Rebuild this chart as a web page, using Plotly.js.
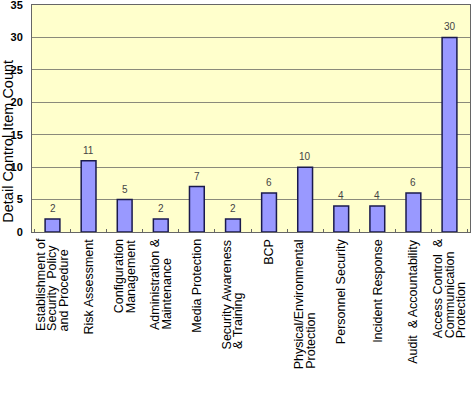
<!DOCTYPE html>
<html>
<head>
<meta charset="utf-8">
<script src="https://cdn.plot.ly/plotly-3.0.1.min.js"></script>
<style>html,body{margin:0;padding:0;background:#fff;}#chart{width:474px;height:399px;}</style>
</head>
<body>
<div id="chart"></div>
<script>
// ---- data ----
var labelLines = [
  ['Establishment of', 'Security\u00a0\u00a0Policy', 'and Procedure'],
  ['Risk Assessment'],
  ['Configuration', 'Management'],
  ['Administration &', 'Maintenance'],
  ['Media Protection'],
  ['Security Awareness', '& Training'],
  ['BCP'],
  ['Physical/Environmental', 'Protection'],
  ['Personnel Security'],
  ['Incident Response'],
  ['Audit\u00a0\u00a0& Accountability'],
  ['Access Control\u00a0\u00a0&', 'Communication', 'Protection']
];
var categories = labelLines.map(function (l) { return l.join(' '); });
var counts = [2, 11, 5, 2, 7, 2, 6, 10, 4, 4, 6, 30];
var yTicks = [0, 5, 10, 15, 20, 25, 30, 35];
var yTitle = 'Detail Control Item Count';

// ---- styling ----
var FONT = 'Liberation Sans, Arial, sans-serif';
var labelSize = 12.5;
var lineStep = 11.5;

var canvas = document.createElement('canvas');
var ctx = canvas.getContext('2d');
ctx.font = labelSize + 'px "Liberation Sans"';

var annotations = [];
// category labels, one annotation per line, start-aligned
labelLines.forEach(function (lines, i) {
  var maxLen = 0;
  lines.forEach(function (t) { maxLen = Math.max(maxLen, ctx.measureText(t).width); });
  var n = lines.length;
  lines.forEach(function (t, j) {
    annotations.push({
      x: categories[i], xref: 'x', y: 0, yref: 'paper',
      text: t, showarrow: false, textangle: -90,
      xanchor: 'center', yanchor: 'bottom',
      xshift: (j - (n - 1) / 2) * lineStep,
      yshift: -(9 + maxLen),
      font: {family: FONT, size: labelSize, color: '#000'}
    });
  });
});
// value labels
counts.forEach(function (v, i) {
  annotations.push({
    x: categories[i], xref: 'x', y: v, yref: 'y',
    text: String(v), showarrow: false,
    xanchor: 'center', yanchor: 'bottom', yshift: 3,
    font: {family: FONT, size: 10, color: '#444'}
  });
});
// y axis title
annotations.push({
  x: 0, xref: 'paper', y: 0.40, yref: 'paper',
  text: yTitle, showarrow: false, textangle: -90,
  xanchor: 'center', yanchor: 'middle', xshift: -23.5,
  borderpad: 0, borderwidth: 0,
  font: {family: FONT, size: 14.5, color: '#000'}
});

var trace = {
  type: 'bar',
  x: categories,
  y: counts,
  marker: {color: '#9999ff', line: {color: '#1a1a4d', width: 1.5}},
  hoverinfo: 'skip'
};

var layout = {
  width: 474, height: 399,
  margin: {l: 32, r: 4, t: 5, b: 167, pad: 0},
  paper_bgcolor: '#ffffff',
  plot_bgcolor: '#ffffcc',
  bargap: 0.59,
  showlegend: false,
  font: {family: FONT},
  xaxis: {
    type: 'category',
    showticklabels: false,
    ticks: 'inside', tickson: 'boundaries', ticklen: 3, tickcolor: '#666',
    showline: true, linecolor: '#666', linewidth: 1, mirror: true,
    showgrid: false, zeroline: false, fixedrange: true
  },
  yaxis: {
    range: [0, 35],
    tickvals: yTicks,
    ticktext: yTicks.map(String),
    ticks: '',
    ticklabelstandoff: 6,
    ticklabeloverflow: 'allow',
    tickfont: {family: FONT, size: 11, color: '#000', weight: 'bold'},
    showgrid: true, gridcolor: '#8a8a7a', gridwidth: 1,
    showline: true, linecolor: '#666', linewidth: 1, mirror: true,
    zeroline: false, fixedrange: true
  },
  annotations: annotations
};

Plotly.newPlot('chart', [trace], layout, {displayModeBar: false, staticPlot: true});
</script>
</body>
</html>
